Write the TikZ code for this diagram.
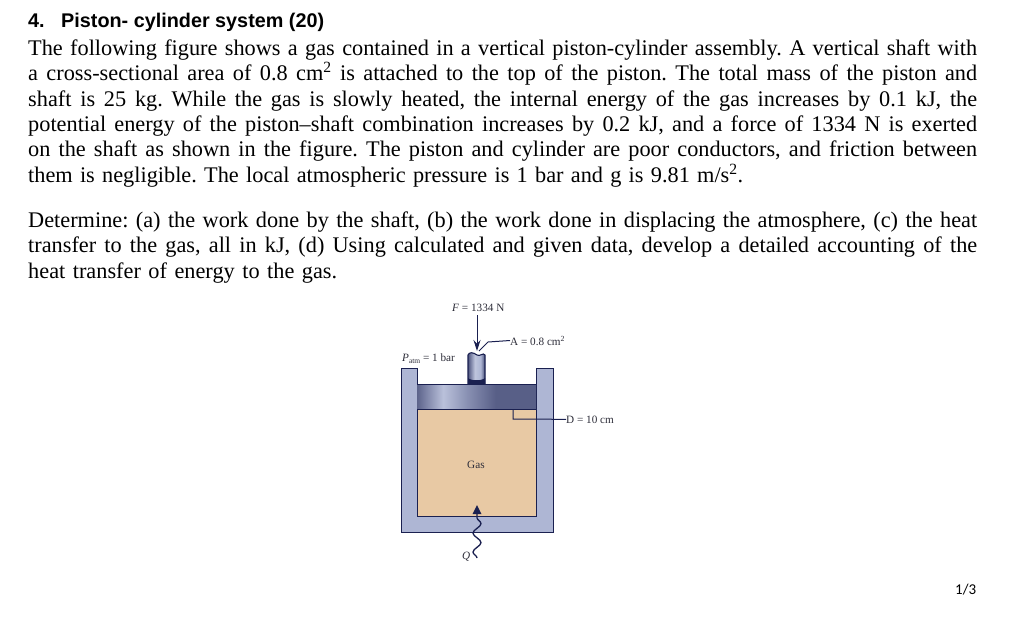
\documentclass[tikz,border=0pt]{standalone}
\usepackage{fontspec}
\setmainfont{Liberation Serif}
\newfontfamily\headfont{Liberation Sans}
\newfontfamily\pagefont{Carlito}
\usetikzlibrary{arrows.meta,decorations.pathmorphing}
\definecolor{wallblue}{HTML}{AEB6D4}
\definecolor{gasfill}{HTML}{E8C9A4}
\definecolor{navyline}{HTML}{1A2050}
\definecolor{labelgray}{HTML}{2E2E3A}
\pgfdeclarehorizontalshading{pistonshade}{100bp}{
  color(0bp)=(navyline!55!wallblue); color(25bp)=(navyline!55!wallblue);
  color(36bp)=(wallblue!85!white); color(46bp)=(navyline!25!wallblue);
  color(58bp)=(navyline!58!wallblue); color(100bp)=(navyline!58!wallblue)}
\pgfdeclarehorizontalshading{shaftshade}{100bp}{
  color(0bp)=(navyline!65!wallblue); color(25bp)=(navyline!65!wallblue);
  color(45bp)=(wallblue!80!white); color(62bp)=(wallblue);
  color(75bp)=(navyline!70!wallblue); color(100bp)=(navyline!70!wallblue)}
\tikzset{
  textline/.style={anchor=base west,inner sep=0pt,font=\fontsize{22.3}{25}\selectfont},
  figlabel/.style={anchor=base west,inner sep=0pt,text=labelgray,font=\fontsize{11.2}{12}\selectfont},
  outline/.style={draw=navyline,line width=0.9pt},
  leader/.style={draw=navyline,line width=1pt}
}
\frenchspacing
\begin{document}
\begin{tikzpicture}[x=1pt,y=-1pt]
  \useasboundingbox (0,0) rectangle (1018,625);
  \fill[white] (0,0) rectangle (1018,625);

  % heading and body text
  \node[textline,font=\headfont\bfseries\fontsize{19.8}{22}\selectfont] (num) at (28,27) {4.};
  \node[textline,font=\headfont\bfseries\fontsize{19.8}{22}\selectfont] (title) at (61,27) {Piston- cylinder system (20)};
  \foreach \n/\y/\w/\t in {
    1/55/949/{The following figure shows a gas contained in a vertical piston-cylinder assembly. A vertical shaft with},
    2/80/949/{a cross-sectional area of 0.8 cm\textsuperscript{2} is attached to the top of the piston. The total mass of the piston and},
    3/106/949/{shaft is 25 kg. While the gas is slowly heated, the internal energy of the gas increases by 0.1 kJ, the},
    4/131/949/{potential energy of the piston--shaft combination increases by 0.2 kJ, and a force of 1334 N is exerted},
    5/156/949/{on the shaft as shown in the figure. The piston and cylinder are poor conductors, and friction between},
    6/182/715/{them is negligible. The local atmospheric pressure is 1 bar and g is 9.81 m/s\textsuperscript{2}.},
    7/227/949/{Determine: (a) the work done by the shaft, (b) the work done in displacing the atmosphere, (c) the heat},
    8/252/949/{transfer to the gas, all in kJ, (d) Using calculated and given data, develop a detailed accounting of the},
    9/278/309/{heat transfer of energy to the gas.}} {
    \node[textline] (line\n) at (28,\y) {\makebox[\w pt][s]{\t}};
  }

  % cylinder and gas
  \fill[wallblue] (401,368) -- (417,368) -- (417,516) -- (536,516) -- (536,368) -- (553,368) -- (553,532) -- (401,532) -- cycle;
  \fill[gasfill] (417,409) rectangle (536,516);
  \draw[outline] (417,409) -- (417,368) -- (401,368) -- (401,532) -- (553,532) -- (553,368) -- (536,368) -- (536,409);
  \draw[outline] (417,409) -- (417,516) -- (536,516) -- (536,409);

  % piston and shaft
  \shade[shading=shaftshade] (468,355) .. controls (469,352) and (473,352) .. (477,355)
    .. controls (480,357) and (483,352) .. (485,355) -- (485,384) -- (468,384) -- cycle;
  \fill[navyline] (468,384) -- (468,378) .. controls (471,381) and (482,381) .. (485,378) -- (485,384) -- cycle;
  \draw[navyline,line width=1.1pt] (468,384) -- (468,355) .. controls (469,352) and (473,352) .. (477,355)
    .. controls (480,357) and (483,352) .. (485,355) -- (485,384);
  \shade[shading=pistonshade] (417,384) rectangle (536,409);
  \draw[outline] (417,384) -- (536,384) (417,409) -- (536,409);

  % labels
  \node[figlabel] (force) at (452,311) {\textit{F} = 1334 N};
  \node[figlabel] (area) at (510,345) {A = 0.8 cm\textsuperscript{2}};
  \node[figlabel] (patm) at (402,361) {\textit{P}\raisebox{-2pt}{\fontsize{7.5}{6}\selectfont atm} = 1 bar};
  \node[figlabel] (diam) at (566,423) {D = 10 cm};
  \node[figlabel] (gas) at (467,468) {Gas};
  \node[figlabel] (heat) at (462,559) {\textit{Q}};

  % connectors
  \coordinate (forcetip) at (477,351);
  \coordinate (shafttop) at (479,351);
  \coordinate (diamfoot) at (513,409);
  \coordinate (wavefoot) at (477,558);
  \coordinate (wavetip) at (477,505);
  \draw[leader,shorten <=4pt,-{Stealth[length=11pt,width=7pt]}] (force.south -| forcetip) -- (forcetip);
  \draw[leader] (area.west) -- (488,342) -- (shafttop);
  \draw[leader] (diam.west) -- (513,419) -- (diamfoot);
  \draw[leader,line width=1.3pt,decorate,decoration={snake,segment length=19pt,amplitude=4pt,post length=4pt}]
    (wavefoot) -- (477,513);
  \fill[navyline] (wavetip) -- (481.5,514) -- (472.5,514) -- cycle;

  % page number
  \node[textline,font=\pagefont\fontsize{15}{18}\selectfont] (pagenum) at (955,594) {1/3};
\end{tikzpicture}
\end{document}
